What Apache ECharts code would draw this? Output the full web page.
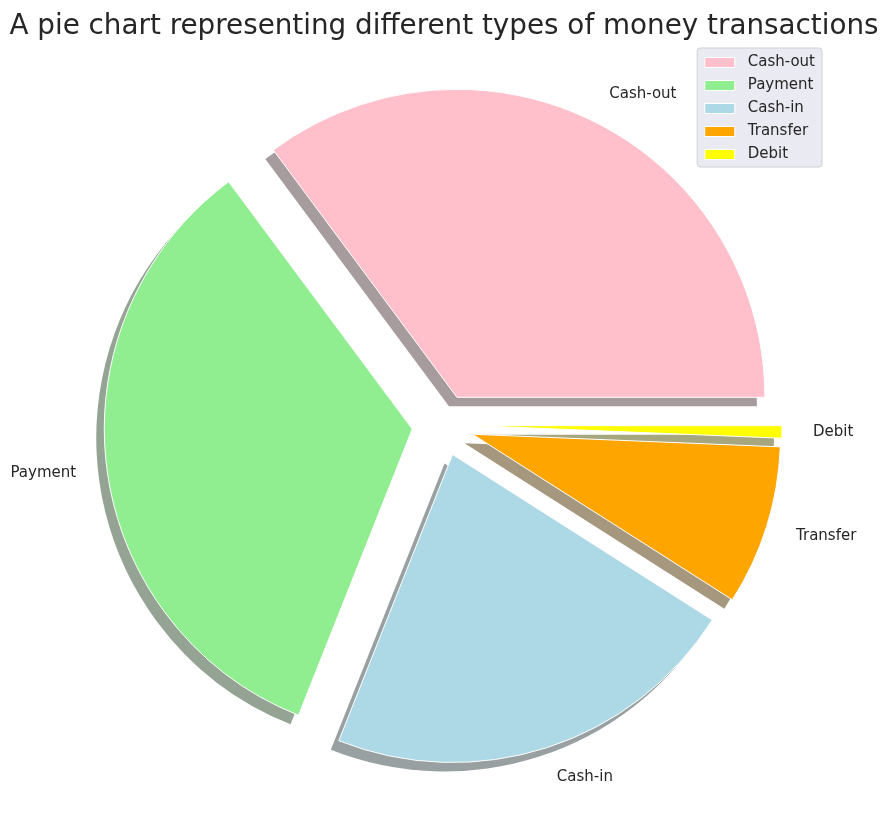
<!DOCTYPE html>
<html>
<head>
<meta charset="utf-8">
<script src="https://cdn.jsdelivr.net/npm/echarts@6/dist/echarts.min.js"></script>
<style>
  html, body { margin: 0; padding: 0; background: #fff; }
  #main { width: 888px; height: 820px; }
</style>
</head>
<body>
<div id="main"></div>
<script>
// transaction types and counts
var types = ['Cash-out', 'Payment', 'Cash-in', 'Transfer', 'Debit'];
var counts = [2237500, 2151495, 1399284, 532909, 41432];
var colors = ['pink', 'lightgreen', 'lightblue', 'orange', 'yellow'];
var shadowColors = ['#a69c9e', '#95a395', '#99a0a2', '#a6987f', '#a6a67f'];

var chart = echarts.init(document.getElementById('main'));

var cx = 443, cy = 425, r = 308;

var mainData = [];
var shadowData = [];
var legendData = [];
for (var i = 0; i < types.length; i++) {
    mainData.push({
        name: types[i],
        value: counts[i],
        selected: true,
        itemStyle: { color: colors[i] }
    });
    shadowData.push({
        name: types[i],
        value: counts[i],
        selected: true,
        itemStyle: { color: shadowColors[i] }
    });
    legendData.push({
        name: types[i],
        itemStyle: { color: colors[i], borderColor: '#fff', borderWidth: 1 }
    });
}

var option = {
    animation: false,
    textStyle: { fontFamily: 'DejaVu Sans' },
    title: {
        text: 'A pie chart representing different types of money transactions',
        left: 'center',
        top: 8,
        textStyle: { fontSize: 27.8, fontWeight: 'normal', color: '#262626', fontFamily: 'DejaVu Sans' }
    },
    legend: {
        data: legendData,
        orient: 'vertical',
        right: 66,
        top: 48,
        icon: 'rect',
        itemWidth: 30,
        itemHeight: 10,
        itemGap: 8,
        padding: [7, 7, 5, 7],
        backgroundColor: '#eaeaf2',
        borderColor: '#cfcfd6',
        borderWidth: 1,
        borderRadius: 3,
        selectedMode: false,
        textStyle: { fontSize: 15, color: '#262626', fontFamily: 'DejaVu Sans', padding: [0, 0, 0, 8] }
    },
    series: [
        {
            // shadow layer
            type: 'pie',
            silent: true,
            center: [cx - 8, cy + 9],
            radius: [0, r],
            startAngle: 0,
            clockwise: false,
            selectedMode: 'multiple',
            selectedOffset: 31,
            avoidLabelOverlap: false,
            label: { show: false },
            labelLine: { show: false },
            itemStyle: { borderWidth: 0 },
            select: { itemStyle: { borderWidth: 0 } },
            emphasis: { disabled: true },
            data: shadowData
        },
        {
            type: 'pie',
            name: 'Transactions',
            center: [cx, cy],
            radius: [0, r],
            startAngle: 0,
            clockwise: false,
            selectedMode: 'multiple',
            selectedOffset: 31,
            avoidLabelOverlap: false,
            label: {
                show: true,
                position: 'outside',
                fontSize: 15,
                color: '#262626',
                fontFamily: 'DejaVu Sans',
                distanceToLabelLine: 0
            },
            labelLine: { show: false, length: 31, length2: 0 },
            itemStyle: { borderColor: '#fff', borderWidth: 1 },
            select: { itemStyle: { borderColor: '#fff', borderWidth: 1 } },
            emphasis: { disabled: true },
            data: mainData
        }
    ]
};
chart.setOption(option);
</script>
</body>
</html>
